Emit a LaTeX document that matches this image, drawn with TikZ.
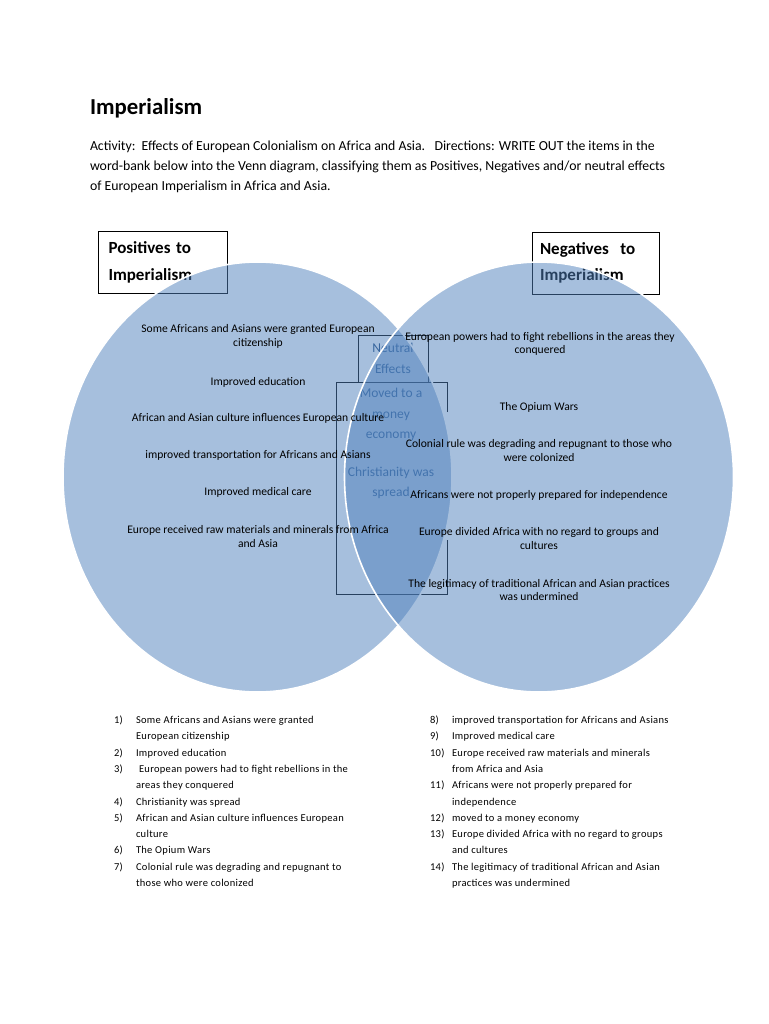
\documentclass[tikz,border=0pt]{standalone}
\usepackage{fontspec}
\setmainfont{Carlito}
\newfontfamily\bankfont[LetterSpace=3]{Carlito}
\usetikzlibrary{shapes.geometric}
\definecolor{venn}{HTML}{4F81BD}
\definecolor{neutraltext}{HTML}{1F497D}
\begin{document}
\begin{tikzpicture}[x=1pt,y=-1pt,
  every node/.style={inner sep=0pt, outer sep=0pt},
  titletext/.style={font=\fontsize{22.8}{27}\selectfont\bfseries, anchor=base west},
  introtext/.style={font=\fontsize{13.8}{20}\selectfont, anchor=base west, align=left},
  headbox/.style={draw=black, line width=0.8pt, minimum height=62, anchor=north west,
    align=left, font=\fontsize{17}{26.5}\selectfont\bfseries},
  neutralbox/.style={line width=0.8pt, draw=black},
  neutraltxt/.style={font=\fontsize{13.5}{20.5}\selectfont, text=neutraltext, align=center},
  vennset/.style={ellipse, fill=venn, fill opacity=0.5, draw=white, draw opacity=1, line width=1.6pt,
    minimum width=389, minimum height=430},
  item/.style={font=\fontsize{11.6}{13.5}\selectfont, align=center},
  bank/.style={font=\bankfont\fontsize{10.5}{16.3}\selectfont, anchor=base west, align=left}
]
\useasboundingbox[fill=white] (0,0) rectangle (768,1024);

% title and directions (multi-line nodes are anchored at their last baseline)
\node[titletext] (title) at (90,114.5) {Imperialism};
\node[introtext] (intro) at (90,190.5) {Activity:\ \ Effects of European Colonialism on Africa and Asia.\ \ \ Directions: WRITE OUT the items in the\\
word-bank below into the Venn diagram, classifying them as Positives, Negatives and/or neutral effects\\
of European Imperialism in Africa and Asia.};

% heading boxes
\node[headbox, minimum width=129, text width=109, inner xsep=10pt] (pos) at (98.5,231.5) {Positives to\\Imperialism};
\node[headbox, minimum width=127, text width=111, inner xsep=8pt] (neg) at (532,232) {Negatives\ \ to\\Imperialism};

% neutral boxes and texts (beneath the circles)
\node[neutralbox, minimum width=70, minimum height=47, neutraltxt] (neutral) at (393,358.5) {Neutral\\Effects};
\node[minimum width=111, minimum height=212] (nbody) at (391.5,488) {};
\draw[neutralbox] (nbody.north east) ++(0,30) -- (nbody.north east) -- (nbody.north west)
  -- (nbody.south west) -- (nbody.south east) -- ++(0,-54);
\node[neutraltxt] (money) at (391,414.5) {Moved to a\\money\\economy};
\node[neutraltxt] (christ) at (391,483) {Christianity was\\spread};

% Venn circles
\node[vennset] (left) at (257.5,477) {};
\node[vennset] (right) at (539,477) {};

% positives
\node[item] (p1) at (258,336.5) {Some Africans and Asians were granted European\\citizenship};
\node[item] (p2) at (258,382) {Improved education};
\node[item] (p3) at (258,418) {African and Asian culture influences European culture};
\node[item] (p4) at (258,455.5) {improved transportation for Africans and Asians};
\node[item] (p5) at (258,492.5) {Improved medical care};
\node[item] (p6) at (258,536.5) {Europe received raw materials and minerals from Africa\\and Asia};

% negatives
\node[item] (m1) at (540,344) {European powers had to fight rebellions in the areas they\\conquered};
\node[item] (m2) at (539,407) {The Opium Wars};
\node[item] (m3) at (539,450.5) {Colonial rule was degrading and repugnant to those who\\were colonized};
\node[item] (m4) at (539,495) {Africans were not properly prepared for independence};
\node[item] (m5) at (539,538.5) {Europe divided Africa with no regard to groups and\\cultures};
\node[item] (m6) at (539,590) {The legitimacy of traditional African and Asian practices\\was undermined};

% word bank, left column
\node[bank] (k1) at (114,723.5) {1)};
\node[bank] (w1) at (136,739.8) {Some Africans and Asians were granted\\European citizenship};
\node[bank] (k2) at (114,756.1) {2)};
\node[bank] (w2) at (136,756.1) {Improved education};
\node[bank] (k3) at (114,772.4) {3)};
\node[bank] (w3) at (136,788.7) {\hspace{3pt}European powers had to fight rebellions in the\\areas they conquered};
\node[bank] (k4) at (114,805) {4)};
\node[bank] (w4) at (136,805) {Christianity was spread};
\node[bank] (k5) at (114,821.3) {5)};
\node[bank] (w5) at (136,837.6) {African and Asian culture influences European\\culture};
\node[bank] (k6) at (114,853.9) {6)};
\node[bank] (w6) at (136,853.9) {The Opium Wars};
\node[bank] (k7) at (114,870.2) {7)};
\node[bank] (w7) at (136,886.5) {Colonial rule was degrading and repugnant to\\those who were colonized};

% word bank, right column
\node[bank] (k8) at (430,723.5) {8)};
\node[bank] (w8) at (452,723.5) {improved transportation for Africans and Asians};
\node[bank] (k9) at (430,739.8) {9)};
\node[bank] (w9) at (452,739.8) {Improved medical care};
\node[bank] (k10) at (430,756.1) {10)};
\node[bank] (w10) at (452,772.4) {Europe received raw materials and minerals\\from Africa and Asia};
\node[bank] (k11) at (430,788.7) {11)};
\node[bank] (w11) at (452,805) {Africans were not properly prepared for\\independence};
\node[bank] (k12) at (430,821.3) {12)};
\node[bank] (w12) at (452,821.3) {moved to a money economy};
\node[bank] (k13) at (430,837.6) {13)};
\node[bank] (w13) at (452,853.9) {Europe divided Africa with no regard to groups\\and cultures};
\node[bank] (k14) at (430,870.2) {14)};
\node[bank] (w14) at (452,886.5) {The legitimacy of traditional African and Asian\\practices was undermined};
\end{tikzpicture}
\end{document}
